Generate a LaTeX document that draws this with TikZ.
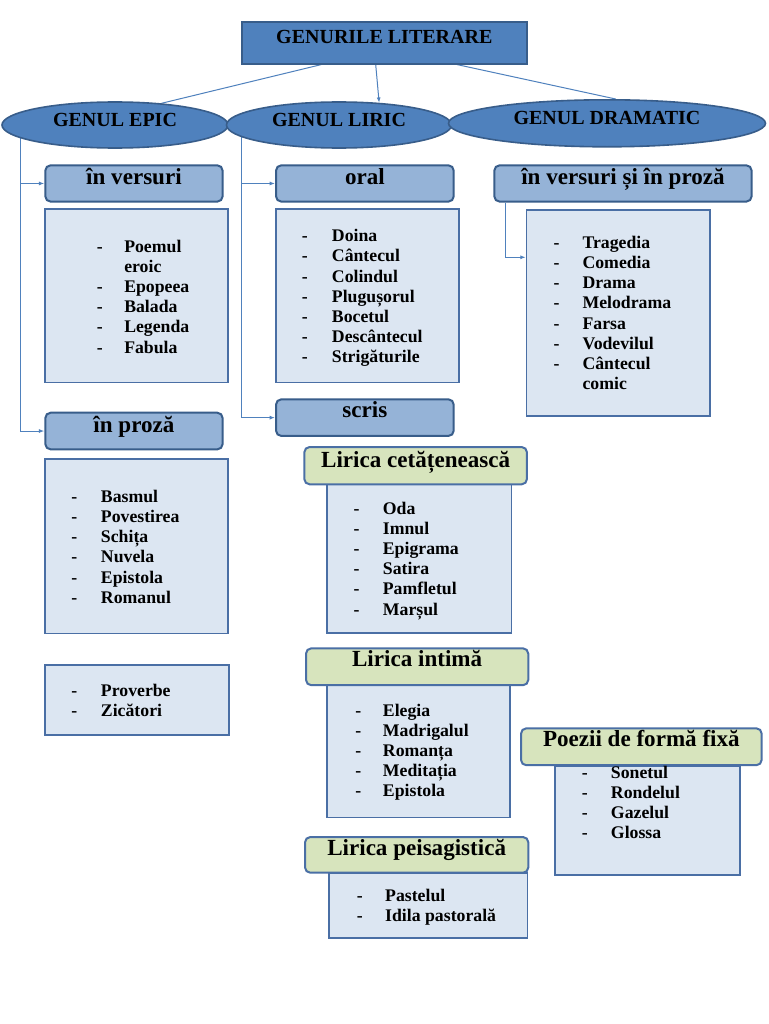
\documentclass[tikz,border=0pt]{standalone}
\usepackage{fontspec}
\setmainfont{Liberation Serif}
\usetikzlibrary{arrows.meta,calc,backgrounds,shapes.geometric}
\definecolor{tblue}{HTML}{4F81BD}
\definecolor{tblueD}{HTML}{385D8A}
\definecolor{hblue}{HTML}{95B3D7}
\definecolor{lfill}{HTML}{DCE6F2}
\definecolor{lborder}{HTML}{4A6FA5}
\definecolor{gfill}{HTML}{D7E4BD}
\definecolor{cline}{HTML}{4F81BD}
\newcommand\listfont{\fontsize{13.3}{15.15}\selectfont\bfseries}
\newcommand\hdrfont{\fontsize{17.3}{20}\selectfont\bfseries}
\newcommand\topfont{\fontsize{15}{18}\selectfont\bfseries}
\tikzset{
 topbox/.style={draw=tblueD, fill=tblue, line width=1.2pt, inner sep=0pt, font=\topfont, anchor=north west},
 genell/.style={ellipse, draw=tblueD, fill=tblue, line width=1.2pt, inner sep=0pt, font=\topfont, text height=10.5pt, text depth=9pt},
 bluehdr/.style={draw=tblueD, fill=hblue, line width=1.5pt, rounded corners=4pt, inner sep=0pt, font=\hdrfont, anchor=north west},
 greenhdr/.style={draw=lborder, fill=gfill, line width=1.5pt, rounded corners=4pt, inner sep=0pt, font=\hdrfont, anchor=north west},
 listbox/.style={draw=lborder, fill=lfill, line width=1.2pt, inner sep=0pt, anchor=north west},
 listtext/.style={inner sep=0pt, anchor=base west, font=\listfont},
 conn/.style={draw=cline, line width=0.75pt},
 arrowed/.style={-{Latex[length=4pt,width=3pt]}}
}
\begin{document}
\begin{tikzpicture}[x=0.75pt,y=-0.75pt]
\useasboundingbox (0,0) rectangle (768,1024);
% top
\node[topbox, minimum width=213.75pt, text height=16.5pt, text depth=15pt] (title) at (241,21) {GENURILE LITERARE};
\node[genell, minimum width=169.5pt, minimum height=34.5pt] (epic) at (115,125) {GENUL EPIC};
\node[genell, minimum width=168.75pt, minimum height=34.5pt] (liric) at (339,125) {GENUL LIRIC};
\node[genell, minimum width=237.75pt, minimum height=35.25pt] (dram) at (607,123.3) {GENUL DRAMATIC};
% blue headers
\node[bluehdr, minimum width=133pt, text height=14.25pt, text depth=13pt] (vers) at (44.3,164.3) {în versuri};
\node[bluehdr, minimum width=133pt, text height=15pt, text depth=12.5pt] (proza) at (44.3,411.7) {în proză};
\node[bluehdr, minimum width=133.3pt, text height=14.25pt, text depth=13pt] (oral) at (275,164.3) {oral};
\node[bluehdr, minimum width=133.3pt, text height=13.8pt, text depth=13.7pt] (scris) at (275,398.3) {scris};
\node[bluehdr, minimum width=193pt, text height=14.25pt, text depth=13pt] (vsp) at (493.3,164.3) {în versuri și în proză};
% list boxes
\node[listbox, minimum width=137.25pt, minimum height=130pt] (epicL) at (44.3,208.3) {};
\node[listbox, minimum width=137.25pt, minimum height=130.8pt] (prozaL) at (44.3,458.3) {};
\node[listbox, minimum width=138pt, minimum height=52.5pt] (provL) at (44.3,664) {};
\node[listbox, minimum width=137.5pt, minimum height=130pt] (oralL) at (275,208.3) {};
\node[listbox, minimum width=137.5pt, minimum height=154.3pt] (dramL) at (525.7,209.3) {};
\node[listbox, minimum width=138.5pt, minimum height=112pt] (cetL) at (326,483) {};
\node[listbox, minimum width=137.25pt, minimum height=99.5pt] (intL) at (326,684) {};
\node[listbox, minimum width=148.8pt, minimum height=49pt] (peisL) at (328.3,872) {};
\node[listbox, minimum width=138.75pt, minimum height=81.75pt] (fixL) at (554,765) {};
% green headers
\node[greenhdr, minimum width=167pt, text height=15pt, text depth=13pt] (cet) at (303.3,446) {Lirica cetățenească};
\node[greenhdr, minimum width=166.7pt, text height=14pt, text depth=13.7pt] (int) at (305,647.3) {Lirica intimă};
\node[greenhdr, minimum width=167.5pt, text height=13.5pt, text depth=13.3pt] (peis) at (304,836) {Lirica peisagistică};
\node[greenhdr, minimum width=180.5pt, text height=14pt, text depth=13.7pt] (fix) at (520,727.3) {Poezii de formă fixă};
% list texts
\node[listtext] (epicT) at (96.7,252) {\begin{tabular}[t]{@{}p{20.5pt}@{}l@{}}-&Poemul\\&eroic\\-&Epopeea\\-&Balada\\-&Legenda\\-&Fabula\end{tabular}};
\node[listtext] (prozaT) at (71,502.3) {\begin{tabular}[t]{@{}p{22.3pt}@{}l@{}}-&Basmul\\-&Povestirea\\-&Schița\\-&Nuvela\\-&Epistola\\-&Romanul\end{tabular}};
\node[listtext] (provT) at (71,696) {\begin{tabular}[t]{@{}p{22.3pt}@{}l@{}}-&Proverbe\\-&Zicători\end{tabular}};
\node[listtext] (oralT) at (301.7,241.7) {\begin{tabular}[t]{@{}p{22.5pt}@{}l@{}}-&Doina\\-&Cântecul\\-&Colindul\\-&Plugușorul\\-&Bocetul\\-&Descântecul\\-&Strigăturile\end{tabular}};
\node[listtext] (dramT) at (553.3,248.3) {\begin{tabular}[t]{@{}p{21.75pt}@{}l@{}}-&Tragedia\\-&Comedia\\-&Drama\\-&Melodrama\\-&Farsa\\-&Vodevilul\\-&Cântecul\\&comic\end{tabular}};
\node[listtext] (cetT) at (353.3,514) {\begin{tabular}[t]{@{}p{22pt}@{}l@{}}-&Oda\\-&Imnul\\-&Epigrama\\-&Satira\\-&Pamfletul\\-&Marșul\end{tabular}};
\node[listtext] (intT) at (355,716) {\begin{tabular}[t]{@{}p{20.8pt}@{}l@{}}-&Elegia\\-&Madrigalul\\-&Romanța\\-&Meditația\\-&Epistola\end{tabular}};
\node[listtext] (peisT) at (356.7,901.7) {\begin{tabular}[t]{@{}p{21.2pt}@{}l@{}}-&Pastelul\\-&Idila pastorală\end{tabular}};
\node[listtext] (fixT) at (581.7,778.3) {\begin{tabular}[t]{@{}p{21.75pt}@{}l@{}}-&Sonetul\\-&Rondelul\\-&Gazelul\\-&Glossa\end{tabular}};
% connectors
\begin{pgfonlayer}{background}
\fill[white] (0,0) rectangle (768,1024);
\draw[conn] ($(title.south west)!0.28!(title.south east)$) -- (epic.25);
\draw[conn,arrowed] ($(title.south west)!0.47!(title.south east)$) -- (liric.29);
\draw[conn] ($(title.south west)!0.754!(title.south east)$) -- (dram.70);
\coordinate (ex) at (20,0);
\draw[conn,arrowed] (epic.center -| ex) |- (vers.west);
\draw[conn,arrowed] (epic.center -| ex) |- (proza.west);
\coordinate (lx) at (241.7,0);
\draw[conn,arrowed] (liric.center -| lx) |- (oral.west);
\draw[conn,arrowed] (liric.center -| lx) |- (scris.west);
\coordinate (dx) at (505,0);
\draw[conn,arrowed] (vsp.south -| dx) |- ($(dramL.north west)+(0,48)$);
\end{pgfonlayer}
\end{tikzpicture}
\end{document}
